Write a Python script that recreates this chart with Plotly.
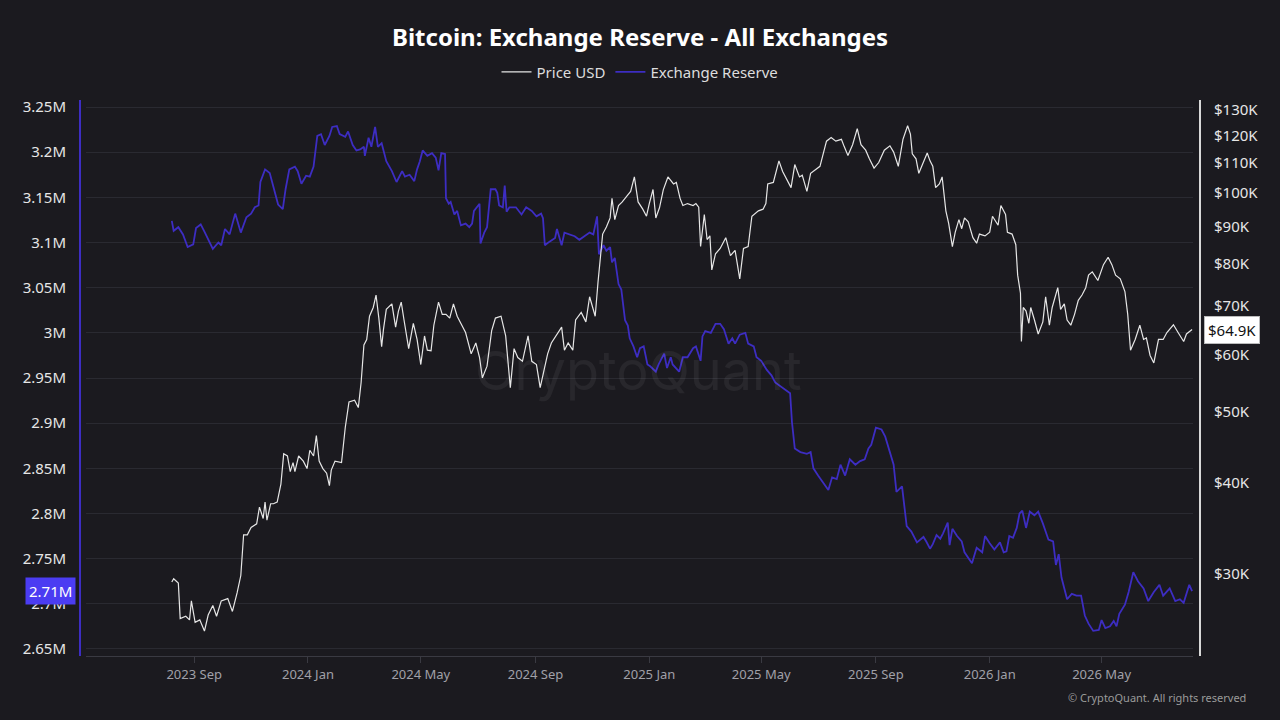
import numpy as np
import plotly.graph_objects as go

# Exchange reserve (million BTC)
reserve_dates = [
    "2023-08-08", "2023-08-10", "2023-08-15", "2023-08-20", "2023-08-25", "2023-08-31",
    "2023-09-03", "2023-09-08", "2023-09-12", "2023-09-18", "2023-09-21", "2023-09-27",
    "2023-09-30", "2023-10-04", "2023-10-09", "2023-10-15", "2023-10-21", "2023-10-27",
    "2023-11-01", "2023-11-05", "2023-11-09", "2023-11-11", "2023-11-16", "2023-11-21",
    "2023-11-24", "2023-11-30", "2023-12-05", "2023-12-08", "2023-12-12", "2023-12-18",
    "2023-12-21", "2023-12-25", "2023-12-30", "2024-01-03", "2024-01-07", "2024-01-11",
    "2024-01-15", "2024-01-19", "2024-01-24", "2024-01-27", "2024-02-01", "2024-02-04",
    "2024-02-10", "2024-02-13", "2024-02-18", "2024-02-22", "2024-02-26", "2024-03-01",
    "2024-03-02", "2024-03-06", "2024-03-09", "2024-03-13", "2024-03-16", "2024-03-20",
    "2024-03-25", "2024-03-31", "2024-04-05", "2024-04-11", "2024-04-14", "2024-04-19",
    "2024-04-24", "2024-04-27", "2024-04-30", "2024-05-03", "2024-05-08", "2024-05-13",
    "2024-05-17", "2024-05-20", "2024-05-23", "2024-05-27", "2024-05-28", "2024-05-31",
    "2024-06-02", "2024-06-06", "2024-06-09", "2024-06-13", "2024-06-18", "2024-06-22",
    "2024-06-25", "2024-06-27", "2024-07-03", "2024-07-04", "2024-07-08", "2024-07-11",
    "2024-07-15", "2024-07-20", "2024-07-22", "2024-07-24", "2024-07-28", "2024-07-30",
    "2024-08-01", "2024-08-04", "2024-08-11", "2024-08-17", "2024-08-22", "2024-08-28",
    "2024-09-02", "2024-09-07", "2024-09-09", "2024-09-11", "2024-09-16", "2024-09-22",
    "2024-09-24", "2024-09-29", "2024-10-02", "2024-10-08", "2024-10-13", "2024-10-18",
    "2024-10-24", "2024-10-29", "2024-11-02", "2024-11-06", "2024-11-08", "2024-11-13",
    "2024-11-16", "2024-11-20", "2024-11-22", "2024-11-25", "2024-11-29", "2024-12-02",
    "2024-12-06", "2024-12-09", "2024-12-11", "2024-12-15", "2024-12-19", "2024-12-22",
    "2024-12-26", "2024-12-30", "2025-01-02", "2025-01-08", "2025-01-11", "2025-01-17",
    "2025-01-20", "2025-01-24", "2025-01-26", "2025-02-02", "2025-02-06", "2025-02-11",
    "2025-02-17", "2025-02-20", "2025-02-25", "2025-02-27", "2025-03-02", "2025-03-08",
    "2025-03-13", "2025-03-18", "2025-03-22", "2025-03-27", "2025-03-31", "2025-04-03",
    "2025-04-08", "2025-04-14", "2025-04-17", "2025-04-23", "2025-04-26", "2025-05-01",
    "2025-05-07", "2025-05-12", "2025-05-16", "2025-05-21", "2025-05-27", "2025-06-01",
    "2025-06-03", "2025-06-06", "2025-06-12", "2025-06-19", "2025-06-23", "2025-06-26",
    "2025-07-01", "2025-07-07", "2025-07-12", "2025-07-16", "2025-07-21", "2025-07-25",
    "2025-07-30", "2025-08-04", "2025-08-10", "2025-08-15", "2025-08-20", "2025-08-24",
    "2025-08-27", "2025-09-01", "2025-09-07", "2025-09-11", "2025-09-16", "2025-09-20",
    "2025-09-23", "2025-09-29", "2025-10-04", "2025-10-09", "2025-10-15", "2025-10-22",
    "2025-10-25", "2025-10-29", "2025-11-01", "2025-11-05", "2025-11-09", "2025-11-12",
    "2025-11-17", "2025-11-19", "2025-11-22", "2025-11-27", "2025-12-02", "2025-12-05",
    "2025-12-13", "2025-12-18", "2025-12-24", "2025-12-27", "2026-01-01", "2026-01-06",
    "2026-01-12", "2026-01-16", "2026-01-19", "2026-01-22", "2026-01-26", "2026-01-30",
    "2026-02-02", "2026-02-05", "2026-02-09", "2026-02-13", "2026-02-18", "2026-02-22",
    "2026-02-27", "2026-03-05", "2026-03-10", "2026-03-13", "2026-03-16", "2026-03-19",
    "2026-03-25", "2026-03-30", "2026-04-04", "2026-04-09", "2026-04-13", "2026-04-17",
    "2026-04-22", "2026-04-28", "2026-05-01", "2026-05-05", "2026-05-10", "2026-05-14",
    "2026-05-17", "2026-05-20", "2026-05-26", "2026-05-30", "2026-06-04", "2026-06-09",
    "2026-06-15", "2026-06-20", "2026-06-26", "2026-07-02", "2026-07-06", "2026-07-13",
    "2026-07-19", "2026-07-24", "2026-07-28", "2026-08-03", "2026-08-06",
]
reserve_m = [
    3.124, 3.113, 3.117, 3.109, 3.095, 3.098,
    3.116, 3.120, 3.112, 3.100, 3.093, 3.100,
    3.097, 3.115, 3.109, 3.132, 3.111, 3.128,
    3.132, 3.139, 3.141, 3.167, 3.181, 3.177,
    3.165, 3.142, 3.137, 3.159, 3.181, 3.184,
    3.179, 3.165, 3.174, 3.173, 3.184, 3.218,
    3.220, 3.208, 3.218, 3.228, 3.229, 3.220,
    3.217, 3.223, 3.208, 3.202, 3.203, 3.206,
    3.196, 3.216, 3.206, 3.228, 3.206, 3.210,
    3.190, 3.179, 3.167, 3.179, 3.173, 3.175,
    3.168, 3.181, 3.190, 3.202, 3.196, 3.199,
    3.194, 3.180, 3.199, 3.198, 3.149, 3.143,
    3.145, 3.131, 3.135, 3.119, 3.121, 3.117,
    3.121, 3.135, 3.143, 3.099, 3.111, 3.117,
    3.159, 3.159, 3.155, 3.141, 3.139, 3.163,
    3.134, 3.139, 3.139, 3.131, 3.139, 3.135,
    3.129, 3.132, 3.127, 3.097, 3.101, 3.105,
    3.115, 3.097, 3.111, 3.109, 3.107, 3.103,
    3.107, 3.111, 3.109, 3.129, 3.087, 3.097,
    3.091, 3.095, 3.078, 3.083, 3.054, 3.048,
    3.014, 3.008, 2.994, 2.985, 2.973, 2.983,
    2.985, 2.965, 2.963, 2.957, 2.965, 2.977,
    2.961, 2.973, 2.965, 2.957, 2.973, 2.973,
    2.983, 2.985, 2.969, 2.996, 3.002, 3.000,
    3.010, 3.010, 3.004, 2.988, 2.994, 2.988,
    2.998, 3.000, 2.988, 2.985, 2.973, 2.969,
    2.959, 2.953, 2.945, 2.941, 2.937, 2.933,
    2.901, 2.872, 2.868, 2.866, 2.868, 2.850,
    2.842, 2.834, 2.826, 2.840, 2.838, 2.854,
    2.842, 2.860, 2.854, 2.858, 2.860, 2.872,
    2.876, 2.895, 2.893, 2.885, 2.868, 2.854,
    2.824, 2.830, 2.786, 2.780, 2.768, 2.774,
    2.769, 2.761, 2.766, 2.776, 2.772, 2.778,
    2.790, 2.765, 2.783, 2.775, 2.769, 2.757,
    2.745, 2.762, 2.757, 2.775, 2.767, 2.760,
    2.768, 2.757, 2.758, 2.775, 2.773, 2.784,
    2.800, 2.803, 2.784, 2.802, 2.798, 2.802,
    2.789, 2.771, 2.769, 2.743, 2.755, 2.729,
    2.705, 2.711, 2.709, 2.709, 2.687, 2.678,
    2.670, 2.671, 2.682, 2.673, 2.675, 2.681,
    2.675, 2.689, 2.699, 2.713, 2.735, 2.725,
    2.717, 2.703, 2.713, 2.721, 2.709, 2.717,
    2.703, 2.705, 2.701, 2.721, 2.714,
]

# BTC price (thousand USD)
price_dates = [
    "2023-08-08", "2023-08-10", "2023-08-15", "2023-08-17", "2023-08-23", "2023-08-27",
    "2023-08-29", "2023-09-02", "2023-09-07", "2023-09-12", "2023-09-16", "2023-09-21",
    "2023-09-25", "2023-09-30", "2023-10-07", "2023-10-12", "2023-10-17", "2023-10-21",
    "2023-10-24", "2023-10-28", "2023-11-01", "2023-11-07", "2023-11-10", "2023-11-14",
    "2023-11-16", "2023-11-18", "2023-11-22", "2023-11-25", "2023-11-29", "2023-12-03",
    "2023-12-06", "2023-12-10", "2023-12-13", "2023-12-16", "2023-12-18", "2023-12-22",
    "2023-12-27", "2023-12-31", "2024-01-03", "2024-01-07", "2024-01-10", "2024-01-13",
    "2024-01-17", "2024-01-21", "2024-01-24", "2024-01-26", "2024-01-30", "2024-02-06",
    "2024-02-10", "2024-02-14", "2024-02-20", "2024-02-24", "2024-02-27", "2024-03-01",
    "2024-03-04", "2024-03-07", "2024-03-11", "2024-03-14", "2024-03-17", "2024-03-20",
    "2024-03-22", "2024-03-25", "2024-03-31", "2024-04-04", "2024-04-07", "2024-04-10",
    "2024-04-13", "2024-04-18", "2024-04-23", "2024-04-27", "2024-05-01", "2024-05-05",
    "2024-05-08", "2024-05-12", "2024-05-15", "2024-05-20", "2024-05-24", "2024-05-28",
    "2024-06-01", "2024-06-05", "2024-06-09", "2024-06-14", "2024-06-18", "2024-06-24",
    "2024-06-29", "2024-07-03", "2024-07-06", "2024-07-11", "2024-07-16", "2024-07-20",
    "2024-07-26", "2024-07-31", "2024-08-05", "2024-08-09", "2024-08-13", "2024-08-18",
    "2024-08-24", "2024-08-28", "2024-09-02", "2024-09-06", "2024-09-11", "2024-09-14",
    "2024-09-18", "2024-09-23", "2024-09-29", "2024-10-02", "2024-10-06", "2024-10-11",
    "2024-10-14", "2024-10-20", "2024-10-25", "2024-10-29", "2024-11-04", "2024-11-07",
    "2024-11-10", "2024-11-12", "2024-11-16", "2024-11-20", "2024-11-22", "2024-11-25",
    "2024-11-29", "2024-12-03", "2024-12-09", "2024-12-12", "2024-12-16", "2024-12-20",
    "2024-12-25", "2024-12-29", "2025-01-01", "2025-01-05", "2025-01-08", "2025-01-12",
    "2025-01-16", "2025-01-21", "2025-01-27", "2025-01-30", "2025-02-03", "2025-02-06",
    "2025-02-11", "2025-02-17", "2025-02-20", "2025-02-23", "2025-02-25", "2025-03-01",
    "2025-03-04", "2025-03-07", "2025-03-09", "2025-03-13", "2025-03-18", "2025-03-24",
    "2025-03-29", "2025-04-03", "2025-04-08", "2025-04-12", "2025-04-17", "2025-04-21",
    "2025-04-28", "2025-05-03", "2025-05-06", "2025-05-08", "2025-05-14", "2025-05-20",
    "2025-05-24", "2025-05-30", "2025-06-02", "2025-06-06", "2025-06-11", "2025-06-14",
    "2025-06-19", "2025-06-23", "2025-06-28", "2025-07-03", "2025-07-10", "2025-07-15",
    "2025-07-20", "2025-07-26", "2025-07-29", "2025-08-02", "2025-08-07", "2025-08-12",
    "2025-08-16", "2025-08-21", "2025-08-25", "2025-08-30", "2025-09-04", "2025-09-10",
    "2025-09-16", "2025-09-20", "2025-09-25", "2025-09-30", "2025-10-05", "2025-10-08",
    "2025-10-10", "2025-10-14", "2025-10-17", "2025-10-22", "2025-10-26", "2025-10-29",
    "2025-11-01", "2025-11-04", "2025-11-08", "2025-11-11", "2025-11-15", "2025-11-18",
    "2025-11-22", "2025-11-25", "2025-11-29", "2025-12-02", "2025-12-05", "2025-12-09",
    "2025-12-14", "2025-12-18", "2025-12-21", "2025-12-27", "2026-01-01", "2026-01-04",
    "2026-01-10", "2026-01-13", "2026-01-18", "2026-01-20", "2026-01-25", "2026-01-29",
    "2026-01-31", "2026-02-03", "2026-02-04", "2026-02-06", "2026-02-09", "2026-02-12",
    "2026-02-14", "2026-02-18", "2026-02-22", "2026-02-27", "2026-03-02", "2026-03-06",
    "2026-03-09", "2026-03-15", "2026-03-18", "2026-03-22", "2026-03-25", "2026-03-29",
    "2026-04-02", "2026-04-06", "2026-04-10", "2026-04-14", "2026-04-17", "2026-04-21",
    "2026-04-27", "2026-05-03", "2026-05-08", "2026-05-12", "2026-05-16", "2026-05-21",
    "2026-05-26", "2026-05-29", "2026-06-01", "2026-06-06", "2026-06-11", "2026-06-15",
    "2026-06-18", "2026-06-22", "2026-06-26", "2026-07-01", "2026-07-06", "2026-07-10",
    "2026-07-17", "2026-07-22", "2026-07-28", "2026-07-31", "2026-08-06",
]
price_k = [
    29.2, 29.5, 29.1, 26.0, 26.2, 25.9,
    27.5, 25.7, 25.9, 25.0, 26.3, 27.1,
    26.2, 27.5, 27.7, 26.6, 28.2, 29.8,
    33.9, 33.9, 34.7, 35.1, 37.0, 35.7,
    37.6, 35.5, 37.4, 37.4, 37.6, 39.8,
    43.8, 43.5, 41.4, 42.6, 41.4, 43.5,
    42.8, 41.8, 44.3, 43.5, 46.4, 42.8,
    41.8, 41.2, 39.6, 41.6, 42.8, 42.6,
    47.6, 51.6, 51.9, 50.7, 54.9, 61.8,
    62.9, 67.7, 69.6, 72.4, 67.3, 61.5,
    65.0, 69.2, 70.4, 65.4, 68.8, 70.8,
    66.9, 61.1, 66.2, 62.9, 58.1, 63.6,
    60.8, 60.7, 65.8, 70.8, 68.1, 68.1,
    67.3, 70.4, 67.7, 65.8, 64.3, 60.1,
    62.2, 59.4, 55.7, 57.8, 64.7, 67.3,
    67.7, 63.6, 54.0, 61.1, 59.4, 58.7,
    63.6, 58.7, 58.1, 54.0, 58.1, 60.1,
    62.2, 63.6, 65.4, 60.8, 62.2, 60.8,
    66.9, 68.5, 66.5, 72.0, 67.7, 75.4,
    81.6, 87.8, 89.8, 92.4, 98.3, 91.9,
    96.1, 97.2, 99.4, 100.5, 105.2, 97.2,
    95.0, 92.9, 96.7, 101.1, 92.4, 95.5,
    101.0, 105.2, 102.9, 103.4, 98.3, 96.1,
    96.7, 96.1, 96.7, 95.6, 84.4, 93.4,
    86.3, 87.3, 78.4, 82.5, 83.9, 86.8,
    82.0, 83.4, 76.2, 83.9, 84.4, 92.9,
    94.5, 95.0, 96.7, 102.9, 103.4, 110.7,
    107.0, 103.4, 101.7, 109.4, 105.2, 105.8,
    100.5, 106.4, 107.6, 108.8, 117.8, 119.2,
    117.8, 118.5, 115.8, 112.6, 116.5, 122.6,
    116.5, 114.5, 111.4, 108.2, 110.1, 114.5,
    116.1, 113.8, 108.8, 118.5, 123.7, 120.5,
    113.2, 111.4, 106.4, 110.1, 113.5, 110.7,
    108.8, 101.7, 102.9, 105.2, 94.5, 90.8,
    84.4, 88.3, 91.9, 89.3, 92.4, 91.3,
    86.8, 85.3, 87.8, 87.3, 88.3, 92.9,
    90.3, 96.1, 93.4, 88.3, 87.8, 84.9,
    77.1, 72.8, 62.5, 69.6, 68.8, 66.2,
    69.6, 66.9, 64.0, 66.5, 72.0, 65.8,
    69.6, 74.1, 69.2, 70.4, 66.9, 65.8,
    68.1, 71.2, 72.4, 74.1, 77.1, 77.9,
    75.8, 79.7, 81.6, 79.7, 77.1, 76.2,
    73.2, 68.1, 60.8, 62.9, 65.8, 62.9,
    63.2, 59.8, 58.4, 62.9, 62.9, 64.3,
    65.9, 64.3, 62.5, 64.0, 64.9,
]

price_ticks = [30000, 40000, 50000, 60000, 70000, 80000, 90000, 100000, 110000, 120000, 130000]
price_tick_labels = ["$30K", "$40K", "$50K", "$60K", "$70K", "$80K", "$90K",
                     "$100K", "$110K", "$120K", "$130K"]

bg = "#1b1a1f"
purple = "#3d2dc2"
font_family = "Noto Sans, Open Sans, sans-serif"

fig = go.Figure()

fig.add_trace(go.Scatter(
    x=price_dates, y=[p * 1000 for p in price_k],
    name="Price USD", mode="lines", yaxis="y2",
    line=dict(color="#e6e6e6", width=1.2),
))
fig.add_trace(go.Scatter(
    x=reserve_dates, y=[r * 1e6 for r in reserve_m],
    name="Exchange Reserve", mode="lines", yaxis="y",
    line=dict(color=purple, width=1.8),
))

fig.update_layout(
    width=1280, height=720,
    paper_bgcolor=bg, plot_bgcolor=bg,
    margin=dict(l=80, r=80, t=100, b=64),
    font=dict(family=font_family, color="#e6e6e6"),
    title=dict(text="<b>Bitcoin: Exchange Reserve - All Exchanges</b>",
               x=0.5, xanchor="center", y=1 - 38 / 720, yanchor="middle",
               font=dict(size=24, color="#ffffff")),
    legend=dict(orientation="h", x=0.5, xanchor="center", y=1.05, yanchor="middle",
                font=dict(size=15, color="#dddddd"), itemwidth=30,
                bgcolor="rgba(0,0,0,0)"),
    xaxis=dict(
        domain=[6 / 1120, 1 - 7 / 1120],
        range=["2023-05-08", "2026-08-07"],
        tick0="2023-09-01", dtick="M4", tickformat="%Y %b",
        showgrid=False, zeroline=False,
        showline=True, linecolor="#3a3a42", linewidth=1,
        ticks="outside", ticklen=6, tickcolor="#3a3a42",
        tickfont=dict(size=13, color="#a0a0a8"),
    ),
    yaxis=dict(
        range=[2642200, 3257800], tick0=2650000, dtick=50000, tickformat="~s",
        anchor="free", position=0,
        showgrid=True, gridcolor="#2a2a31", zeroline=False,
        showline=True, linecolor=purple, linewidth=2,
        ticklabelstandoff=10,
        tickfont=dict(size=15, color="#e6e6e6"),
    ),
    yaxis2=dict(
        type="log", range=[np.log10(23100), np.log10(134200)],
        tickvals=price_ticks, ticktext=price_tick_labels,
        overlaying="y", side="right", anchor="free", position=1,
        showgrid=False, zeroline=False,
        showline=True, linecolor="#d8d8d8", linewidth=2,
        ticklabelstandoff=10,
        tickfont=dict(size=15, color="#e6e6e6"),
    ),
)

# last-value badges on both axes
fig.add_annotation(
    x=0, xref="paper", xanchor="right", xshift=-4,
    y=reserve_m[-1] * 1e6, yref="y",
    text=f"{reserve_m[-1]:.2f}M", showarrow=False,
    font=dict(size=15, color="#ffffff"),
    bgcolor="#4b3cf2", borderpad=3,
)
fig.add_annotation(
    x=1, xref="paper", xanchor="left", xshift=4,
    y=np.log10(price_k[-1] * 1000), yref="y2",
    text=f"${price_k[-1]:.1f}K", showarrow=False,
    font=dict(size=15, color="#111111"),
    bgcolor="#ffffff", bordercolor="#bbbbbb", borderwidth=1, borderpad=3,
)

# watermark + copyright
fig.add_annotation(
    x=0.499, y=0.514, xref="paper", yref="paper",
    text="CryptoQuant", showarrow=False,
    font=dict(size=54, color="rgba(255,255,255,0.06)", family="Inter, sans-serif"),
)
fig.add_annotation(
    x=1.043, y=-0.0755, xref="paper", yref="paper",
    xanchor="right", yanchor="middle",
    text="© CryptoQuant. All rights reserved", showarrow=False,
    font=dict(size=11, color="#9a9a9a"),
)

# drop the default page margin so the figure sits flush in the window
fig.write_html(
    "out.html",
    config={"displayModeBar": False},
    post_script="document.body.style.margin='0';document.body.style.background='#1b1a1f';",
)
